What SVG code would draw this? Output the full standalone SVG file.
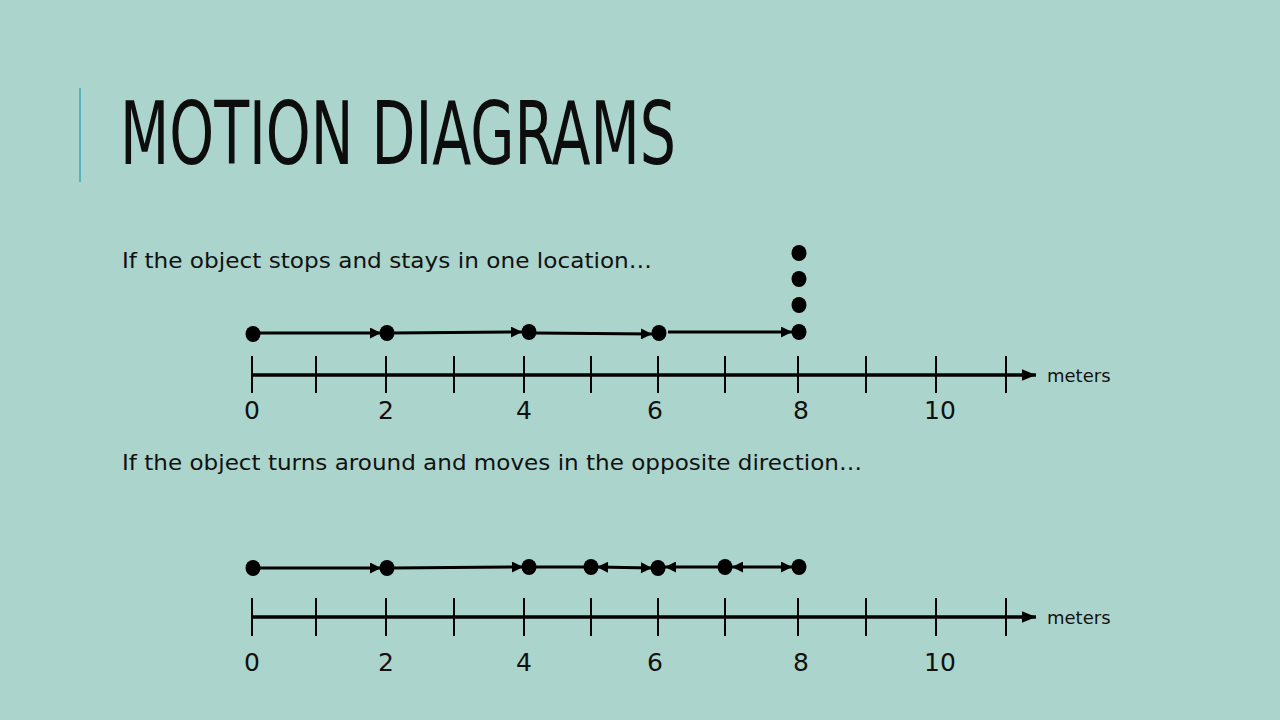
<svg xmlns="http://www.w3.org/2000/svg" width="1280" height="720" viewBox="0 0 1280 720">
<defs>
<marker id="ah" viewBox="0 0 10 10" refX="10" refY="5" markerWidth="12" markerHeight="11" markerUnits="userSpaceOnUse" orient="auto-start-reverse"><path d="M0,0 L10,5 L0,10 z" fill="#000"/></marker>
<marker id="axh" viewBox="0 0 12 10" refX="12" refY="5" markerWidth="14" markerHeight="12" markerUnits="userSpaceOnUse" orient="auto"><path d="M0,0 L12,5 L0,10 z" fill="#000"/></marker>
<style>
.txt{font-family:"DejaVu Sans","Noto Sans",sans-serif;fill:#111;}
.num{font-family:"DejaVu Sans","Noto Sans",sans-serif;font-size:25px;fill:#111;text-anchor:middle;}
.axis{stroke:#000;stroke-width:3.5;fill:none;}
.tick{stroke:#000;stroke-width:2;}
.arr{stroke:#000;stroke-width:3;fill:none;}
.dot{fill:#000;}
</style>
</defs>
<rect width="1280" height="720" fill="#abd5cc"/>
<line x1="80" y1="88" x2="80" y2="182" stroke="#5bb4bb" stroke-width="2"/>
<text x="120" y="164" font-family="DejaVu Sans Condensed, DejaVu Sans, sans-serif" font-size="88" textLength="556" lengthAdjust="spacingAndGlyphs" fill="#0d0d0d">MOTION DIAGRAMS</text>
<text class="txt" x="122" y="268" font-size="22" textLength="530" lengthAdjust="spacingAndGlyphs">If the object stops and stays in one location…</text>
<text class="txt" x="122" y="470" font-size="22" textLength="740" lengthAdjust="spacingAndGlyphs">If the object turns around and moves in the opposite direction…</text>

<g id="axis1">
<line class="axis" x1="252" y1="375" x2="1036" y2="375" marker-end="url(#axh)"/>
<g class="tick">
<line x1="252" y1="356" x2="252" y2="393"/><line x1="316" y1="356" x2="316" y2="393"/><line x1="386" y1="356" x2="386" y2="393"/><line x1="454" y1="356" x2="454" y2="393"/><line x1="524" y1="356" x2="524" y2="393"/><line x1="591" y1="356" x2="591" y2="393"/><line x1="658" y1="356" x2="658" y2="393"/><line x1="725" y1="356" x2="725" y2="393"/><line x1="798" y1="356" x2="798" y2="393"/><line x1="866" y1="356" x2="866" y2="393"/><line x1="936" y1="356" x2="936" y2="393"/><line x1="1006" y1="356" x2="1006" y2="393"/>
</g>
<text class="txt" x="1047" y="382" font-size="18">meters</text>
<text class="num" x="252" y="419">0</text><text class="num" x="386" y="419">2</text><text class="num" x="524" y="419">4</text><text class="num" x="655" y="419">6</text><text class="num" x="801" y="419">8</text><text class="num" x="940" y="419">10</text>
</g>

<g id="axis2">
<line class="axis" x1="252" y1="617" x2="1036" y2="617" marker-end="url(#axh)"/>
<g class="tick">
<line x1="252" y1="598" x2="252" y2="636"/><line x1="316" y1="598" x2="316" y2="636"/><line x1="386" y1="598" x2="386" y2="636"/><line x1="454" y1="598" x2="454" y2="636"/><line x1="524" y1="598" x2="524" y2="636"/><line x1="591" y1="598" x2="591" y2="636"/><line x1="658" y1="598" x2="658" y2="636"/><line x1="725" y1="598" x2="725" y2="636"/><line x1="798" y1="598" x2="798" y2="636"/><line x1="866" y1="598" x2="866" y2="636"/><line x1="936" y1="598" x2="936" y2="636"/><line x1="1006" y1="598" x2="1006" y2="636"/>
</g>
<text class="txt" x="1047" y="624" font-size="18">meters</text>
<text class="num" x="252" y="671">0</text><text class="num" x="386" y="671">2</text><text class="num" x="524" y="671">4</text><text class="num" x="655" y="671">6</text><text class="num" x="801" y="671">8</text><text class="num" x="940" y="671">10</text>
</g>

<g id="connectors">
<line class="arr" x1="258" y1="333" x2="381" y2="333" marker-end="url(#ah)"/>
<line class="arr" x1="392" y1="333" x2="522" y2="332" marker-end="url(#ah)"/>
<line class="arr" x1="535" y1="333" x2="652" y2="334" marker-end="url(#ah)"/>
<line class="arr" x1="668" y1="332" x2="792" y2="332" marker-end="url(#ah)"/>
<line class="arr" x1="258" y1="568" x2="381" y2="568" marker-end="url(#ah)"/>
<line class="arr" x1="392" y1="568" x2="523" y2="567" marker-end="url(#ah)"/>
<line class="arr" x1="534" y1="567" x2="586" y2="567"/>
<line class="arr" x1="597" y1="567" x2="652" y2="568" marker-start="url(#ah)" marker-end="url(#ah)"/>
<line class="arr" x1="665" y1="567" x2="720" y2="567" marker-start="url(#ah)"/>
<line class="arr" x1="732" y1="567" x2="792" y2="567" marker-start="url(#ah)" marker-end="url(#ah)"/>
</g>

<g id="dots1">
<ellipse class="dot" cx="253" cy="334" rx="7.5" ry="8"/>
<ellipse class="dot" cx="387" cy="333" rx="7.5" ry="8"/>
<ellipse class="dot" cx="529" cy="332" rx="7.5" ry="8"/>
<ellipse class="dot" cx="659" cy="333" rx="7.5" ry="8"/>
<ellipse class="dot" cx="799" cy="332" rx="7.5" ry="8"/>
<ellipse class="dot" cx="799" cy="305" rx="7.5" ry="8"/>
<ellipse class="dot" cx="799" cy="279" rx="7.5" ry="8"/>
<ellipse class="dot" cx="799" cy="253" rx="7.5" ry="8"/>
</g>
<g id="dots2">
<ellipse class="dot" cx="253" cy="568" rx="7.5" ry="8"/>
<ellipse class="dot" cx="387" cy="568" rx="7.5" ry="8"/>
<ellipse class="dot" cx="529" cy="567" rx="7.5" ry="8"/>
<ellipse class="dot" cx="591" cy="567" rx="7.5" ry="8"/>
<ellipse class="dot" cx="658" cy="568" rx="7.5" ry="8"/>
<ellipse class="dot" cx="725" cy="567" rx="7.5" ry="8"/>
<ellipse class="dot" cx="799" cy="567" rx="7.5" ry="8"/>
</g>
</svg>
